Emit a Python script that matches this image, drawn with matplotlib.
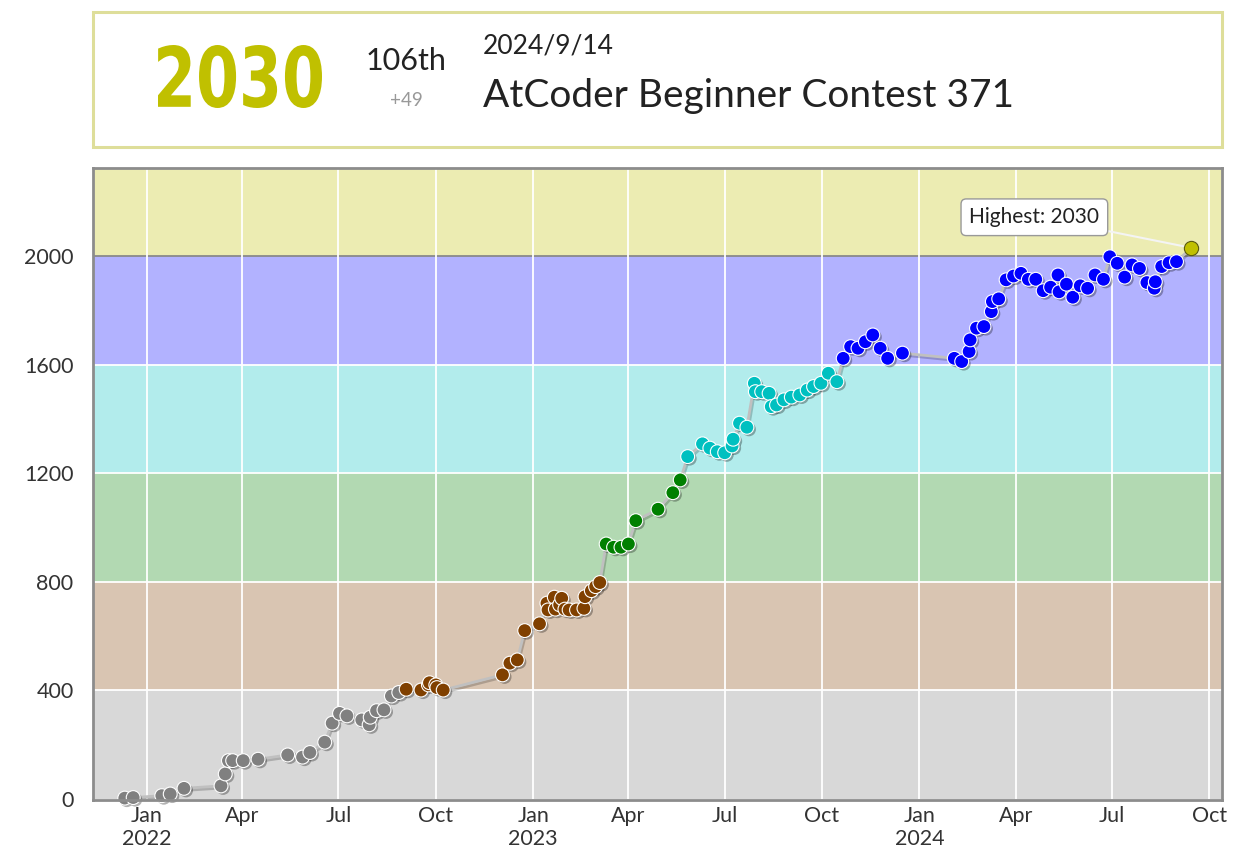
import matplotlib
matplotlib.use("Agg")
import matplotlib.pyplot as plt
import matplotlib.patheffects as pe
from matplotlib.patches import Rectangle, PathPatch
from matplotlib.textpath import TextPath
from matplotlib.font_manager import FontProperties
from matplotlib.transforms import Affine2D
import pandas as pd

plt.rcParams['font.family'] = ['Lato', 'DejaVu Sans']

# ---- data ----
dates = [
    "2021-12-11", "2021-12-19", "2022-01-15", "2022-01-23", "2022-02-05",
    "2022-03-12", "2022-03-16", "2022-03-19", "2022-03-23", "2022-04-02",
    "2022-04-16", "2022-05-14", "2022-05-28", "2022-06-04", "2022-06-18",
    "2022-06-25", "2022-07-02", "2022-07-09", "2022-07-23", "2022-07-30",
    "2022-07-31", "2022-08-06", "2022-08-13", "2022-08-20", "2022-08-27",
    "2022-09-03", "2022-09-17", "2022-09-24", "2022-09-25", "2022-10-01",
    "2022-10-02", "2022-10-08",
    "2022-12-03", "2022-12-10", "2022-12-17", "2022-12-24", "2023-01-07",
    "2023-01-14", "2023-01-15", "2023-01-21", "2023-01-22", "2023-01-26",
    "2023-01-28", "2023-01-31", "2023-02-04", "2023-02-11", "2023-02-18",
    "2023-02-19", "2023-02-25", "2023-03-01", "2023-03-05",
    "2023-03-11", "2023-03-18", "2023-03-25", "2023-04-01", "2023-04-08",
    "2023-04-29", "2023-05-13", "2023-05-20",
    "2023-05-27", "2023-06-10", "2023-06-17", "2023-06-24", "2023-07-01",
    "2023-07-08", "2023-07-09", "2023-07-15", "2023-07-22", "2023-07-29",
    "2023-07-30", "2023-08-05", "2023-08-12", "2023-08-14", "2023-08-19",
    "2023-08-26", "2023-09-02", "2023-09-10", "2023-09-17", "2023-09-23",
    "2023-09-30", "2023-10-07", "2023-10-15",
    "2023-10-21", "2023-10-28", "2023-11-04", "2023-11-11", "2023-11-18",
    "2023-11-25", "2023-12-02", "2023-12-16",
    "2024-02-03", "2024-02-10", "2024-02-17", "2024-02-18", "2024-02-24",
    "2024-03-02", "2024-03-09", "2024-03-10", "2024-03-16", "2024-03-23",
    "2024-03-30", "2024-04-06", "2024-04-13", "2024-04-20", "2024-04-27",
    "2024-05-04", "2024-05-11", "2024-05-12", "2024-05-19", "2024-05-25",
    "2024-06-01", "2024-06-08", "2024-06-15", "2024-06-23", "2024-06-29",
    "2024-07-06", "2024-07-13", "2024-07-20", "2024-07-27", "2024-08-03",
    "2024-08-10", "2024-08-11", "2024-08-17", "2024-08-24", "2024-08-31",
    "2024-09-14",
]
ratings = [
    3, 5, 12, 18, 39,
    48, 92, 141, 141, 141,
    146, 162, 154, 171, 209,
    279, 315, 306, 291, 273,
    301, 325, 328, 379, 392,
    404, 401, 420, 428, 420,
    410, 401,
    457, 500, 512, 620, 645,
    721, 696, 743, 699, 715,
    739, 699, 696, 696, 702,
    745, 767, 782, 797,
    939, 927, 927, 939, 1025,
    1067, 1128, 1175,
    1261, 1308, 1292, 1279, 1275,
    1300, 1325, 1384, 1369, 1531,
    1500, 1500, 1494, 1445, 1451,
    1470, 1480, 1488, 1506, 1519,
    1531, 1568, 1537,
    1623, 1666, 1660, 1684, 1709,
    1660, 1623, 1642,
    1623, 1611, 1648, 1691, 1734,
    1740, 1795, 1832, 1842, 1912,
    1926, 1936, 1914, 1914, 1872,
    1885, 1930, 1868, 1896, 1848,
    1890, 1881, 1930, 1914, 1997,
    1973, 1922, 1967, 1954, 1902,
    1881, 1905, 1961, 1975, 1979,
    2030,
]

band_lows = [0, 400, 800, 1200, 1600, 2000]
band_highs = [400, 800, 1200, 1600, 2000, 2400]
band_fill = ["#d8d8d8", "#d9c5b2", "#b2d9b2", "#b2ecec", "#b2b2ff", "#ececb2"]
band_mark = ["#808080", "#804000", "#008000", "#00c0c0", "#0000ff", "#c0c000"]

y_ticks = [0, 400, 800, 1200, 1600, 2000]
quarter_ticks = pd.date_range("2022-01-01", "2024-10-01", freq="QS")

highest = 2030
contest_name = "AtCoder Beginner Contest 371"
contest_date = "2024/9/14"
rank = "106th"
delta = "+49"

x = pd.to_datetime(dates)


def band_of(r):
    for i in range(len(band_lows) - 1, -1, -1):
        if r >= band_lows[i]:
            return i
    return 0


W, H = 1246, 850
fig = plt.figure(figsize=(W / 100, H / 100), dpi=100)
ax = fig.add_axes([93 / W, 1 - 800 / H, 1129 / W, 632 / H])

for lo, hi, c in zip(band_lows, band_highs, band_fill):
    ax.axhspan(lo, hi, color=c, zorder=0, lw=0)
for lo in band_lows[1:5]:
    ax.axhline(lo, color="white", lw=1.3, zorder=1)
ax.axhline(2000, color="#8a8a8a", lw=1.3, zorder=1)
for t in quarter_ticks:
    ax.axvline(t, color="white", lw=1.3, zorder=1)

# line through the contests
ax.plot(x, ratings, color="#c0c0c0", lw=2, zorder=2,
        path_effects=[pe.SimpleLineShadow(offset=(1, -1.5), alpha=0.2), pe.Normal()])

cols = [band_mark[band_of(r)] for r in ratings[:-1]]
sc = ax.scatter(x[:-1], ratings[:-1], s=100, c=cols, edgecolors="white",
                linewidths=0.8, zorder=3, clip_on=False)
sc.set_path_effects([pe.SimplePatchShadow(offset=(1.5, -1.5), shadow_rgbFace="k",
                                          alpha=0.3), pe.Normal()])

# highest point
ax.scatter(x[-1:], ratings[-1:], s=105, c=band_mark[5], edgecolors="#5a5a10",
           linewidths=0.8, zorder=4)
ax.annotate(f"Highest: {highest}", xy=(x[-1], ratings[-1]), xytext=(-113, 22),
            textcoords="offset points", ha="center", va="center", fontsize=15,
            color="#222222", zorder=5,
            bbox=dict(boxstyle="round,pad=0.4,rounding_size=0.25", fc="white",
                      ec="#999999", lw=1),
            arrowprops=dict(arrowstyle="-", color="#f4f4f4", lw=1.5,
                            relpos=(0.92, 0.0), shrinkA=0, shrinkB=6))

ax.set_xlim(pd.Timestamp("2021-11-11"), pd.Timestamp("2024-10-13"))
ax.set_ylim(-4, 2324)
ax.set_yticks(y_ticks)
ax.set_yticklabels([str(v) for v in y_ticks])
ax.set_xticks(quarter_ticks)
ax.set_xticklabels([t.strftime("%b") + ("\n" + str(t.year) if t.month == 1 else "")
                    for t in quarter_ticks])
ax.tick_params(axis="both", length=0, labelsize=15.5, colors="#333333")
ax.tick_params(axis="y", pad=14)
ax.tick_params(axis="x", pad=4)
for s in ax.spines.values():
    s.set_color("#8c8c8c")
    s.set_linewidth(2)
    s.set_zorder(6)

# header box
fig.patches.append(Rectangle((93 / W, 1 - 147 / H), 1129 / W, 135 / H,
                             transform=fig.transFigure, fc="white", ec="#dede9a",
                             lw=2.2, zorder=1))

# big rating number, squeezed to a condensed look
tp = TextPath((0, 0), str(highest), size=100,
              prop=FontProperties(family="DejaVu Sans", weight="bold"))
bb = tp.get_extents()
sx = 164 / bb.width
sy = 63 / bb.height
big = PathPatch(tp, fc="#c0c000", ec="none", zorder=5,
                transform=Affine2D().translate(-bb.x0, -bb.y0).scale(sx, sy)
                .translate(158, H - 108))
fig.add_artist(big)

fig.text(406 / W, 1 - 61 / H, rank, ha="center", va="center", fontsize=22, color="#222222")
fig.text(406 / W, 1 - 101 / H, delta, ha="center", va="center", fontsize=13.5,
         color="#999999")
fig.text(483 / W, 1 - 46 / H, contest_date, ha="left", va="center", fontsize=19,
         color="#222222")
fig.text(483 / W, 1 - 96 / H, contest_name, ha="left", va="center", fontsize=28,
         color="#222222")

fig.savefig("out.png", dpi=100)
